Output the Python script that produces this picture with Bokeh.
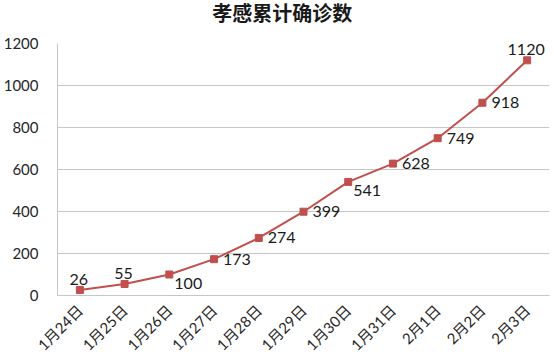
import math
from bokeh.plotting import figure
from bokeh.layouts import column
from bokeh.models import ColumnDataSource, FactorRange, Range1d, FixedTicker
from bokeh.core.properties import value
from bokeh.embed import file_html
from bokeh.resources import INLINE

# ---- data ----
categories = ["1月24日", "1月25日", "1月26日", "1月27日", "1月28日", "1月29日",
              "1月30日", "1月31日", "2月1日", "2月2日", "2月3日"]
confirmed = [26, 55, 100, 173, 274, 399, 541, 628, 749, 918, 1120]
y_ticks = [0, 200, 400, 600, 800, 1000, 1200]
title_text = "孝感累计确诊数"

# label placement per point (styling)
placement = ["above", "above", "below_right", "right", "right", "right",
             "below_right", "right", "right", "right", "above"]
place_style = {
    "above": dict(align="center", baseline="bottom", dx=-1, dy=-5),
    "right": dict(align="left", baseline="middle", dx=9, dy=0),
    "below_right": dict(align="left", baseline="middle", dx=5, dy=9),
}

RED = "#C0504D"
GRID = "#C6C6C6"
NUM_FONT = "Lato, 'Noto Sans CJK SC'"
TITLE_H = 30

# ---- title strip (its frame is aligned with the chart frame by the column layout) ----
pt = figure(width=554, height=TITLE_H, output_backend="svg", toolbar_location=None,
            x_axis_type=None, y_axis_type=None, min_border=0,
            x_range=Range1d(0, 1), y_range=Range1d(0, 1))
pt.outline_line_color = None
pt.xgrid.grid_line_color = None
pt.ygrid.grid_line_color = None
pt.text(x=[0.457], y=[0.57], text=[title_text], text_align="center", text_baseline="middle",
        text_font=value(NUM_FONT), text_font_size="20px",
        text_font_style="bold", text_color="#1a1a1a")

# ---- main chart ----
src = ColumnDataSource(dict(
    x=categories,
    y=confirmed,
    label=[str(v) for v in confirmed],
    align=[place_style[k]["align"] for k in placement],
    baseline=[place_style[k]["baseline"] for k in placement],
    dx=[place_style[k]["dx"] for k in placement],
    dy=[place_style[k]["dy"] for k in placement],
))

p = figure(width=554, height=362 - TITLE_H, output_backend="svg", toolbar_location=None,
           x_range=FactorRange(*categories, range_padding=0),
           y_range=Range1d(0, 1200),
           min_border_left=52, min_border_right=5, min_border_top=43 - TITLE_H,
           min_border_bottom=67)

p.outline_line_color = None
p.background_fill_color = "white"
p.border_fill_color = "white"

p.xgrid.grid_line_color = None
p.ygrid.grid_line_color = GRID
p.ygrid.grid_line_width = 1

p.yaxis.ticker = FixedTicker(ticks=y_ticks)
p.yaxis.major_tick_line_color = None
p.yaxis.minor_tick_line_color = None
p.yaxis.axis_line_color = GRID
p.yaxis.major_label_text_font = NUM_FONT
p.yaxis.major_label_text_font_size = "15px"
p.yaxis.major_label_text_color = "#262626"
p.yaxis.major_label_standoff = 13

p.xaxis.major_tick_line_color = None
p.xaxis.axis_line_color = GRID
p.xaxis.major_label_orientation = math.pi / 4
p.xaxis.major_label_text_font = NUM_FONT
p.xaxis.major_label_text_font_size = "15px"
p.xaxis.major_label_text_color = "#262626"
p.xaxis.major_label_standoff = 6

p.line("x", "y", source=src, line_color=RED, line_width=2)
p.scatter("x", "y", source=src, marker="square", size=7, fill_color=RED, line_color=RED)

p.text("x", "y", text="label", source=src, text_align="align", text_baseline="baseline",
       x_offset="dx", y_offset="dy", text_font=value("Lato"), text_font_size="16px",
       text_color="#1a1a1a")

layout = column(pt, p, spacing=0)
open("out.html", "w").write(file_html(layout, INLINE))
